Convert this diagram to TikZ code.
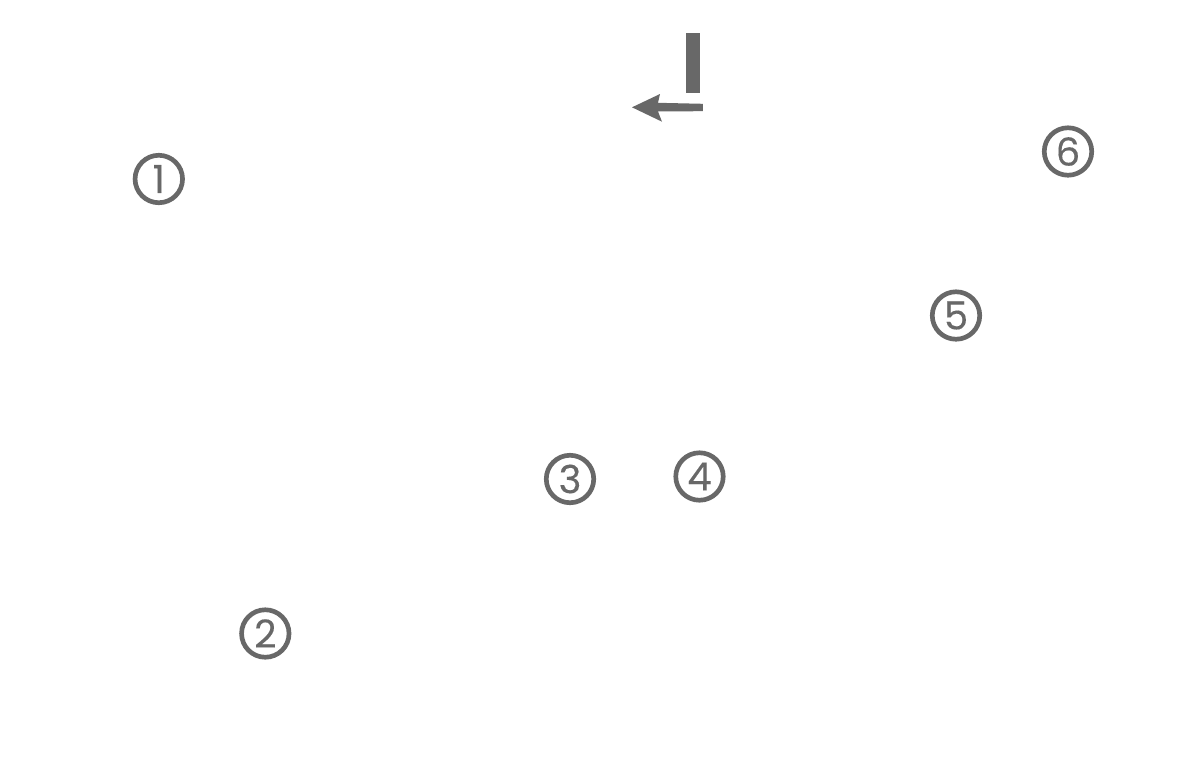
\documentclass[tikz,border=0pt]{standalone}
\usepackage{fontspec}
\setmainfont[FakeBold=0.25]{Poppins}
\definecolor{inkgrey}{HTML}{686868}
\tikzset{
  numring/.style={circle,draw=inkgrey,line width=3.5pt,minimum size=35.6pt,inner sep=0pt,text=inkgrey,font=\fontsize{29}{29}\selectfont},
  solidgrey/.style={fill=inkgrey,draw=none}
}
\begin{document}
\begin{tikzpicture}[x=0.75pt,y=-0.75pt]
\useasboundingbox (0,0) rectangle (1200,783);
\fill[white] (0,0) rectangle (1200,783);
\fill[solidgrey] (686,33.3) rectangle (700.3,92.7);
\fill[solidgrey] (632,107.3) -- (660,94) -- (658,102.8) -- (702.8,103.8) -- (702.8,111.2) -- (658,111.4) -- (662,121.7) -- cycle;
\node[numring] (n1) at (158.8,179) {1};
\node[numring] (n2) at (265.3,633.5) {2};
\node[numring] (n3) at (570,479) {3};
\node[numring] (n4) at (699.5,476.5) {4};
\node[numring] (n5) at (956,315.5) {5};
\node[numring] (n6) at (1068,151.5) {6};
\end{tikzpicture}
\end{document}
